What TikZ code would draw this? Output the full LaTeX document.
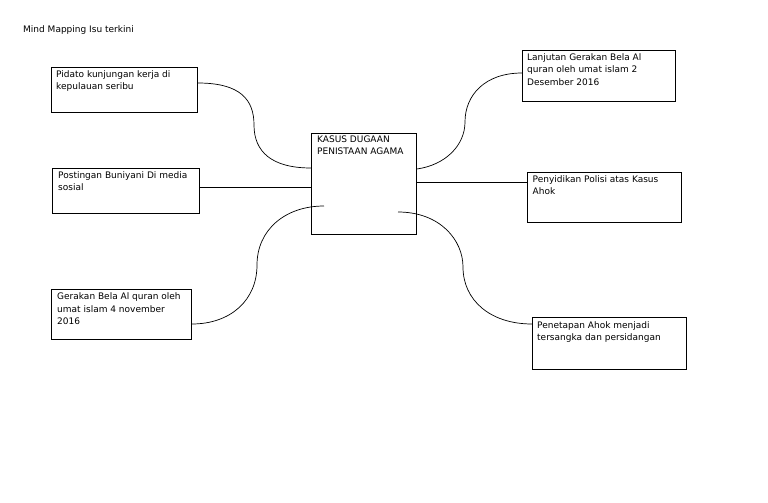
\documentclass[tikz,border=0pt]{standalone}
\usepackage{fontspec}
\setmainfont{DejaVu Sans}
\usetikzlibrary{calc}
\begin{document}
\begin{tikzpicture}[x=1pt,y=-1pt,
  box/.style={draw, line width=0.8pt, inner sep=0pt, anchor=north west},
  txt/.style={anchor=north west, inner sep=0pt, align=left, font=\fontsize{9}{12.5}\selectfont},
  link/.style={line width=0.7pt}]
\fill[white] (0,0) rectangle (768,503);
\path[use as bounding box] (0,0) rectangle (768,503);
\node[txt] (title) at (23,25) {Mind Mapping Isu terkini};
% boxes
\node[box, minimum width=146pt, minimum height=45pt] (A) at (51,67) {};
\node[box, minimum width=147pt, minimum height=45pt] (B) at (52,168) {};
\node[box, minimum width=140pt, minimum height=50pt] (C) at (51,289) {};
\node[box, minimum width=105pt, minimum height=101pt] (K) at (311,133) {};
\node[box, minimum width=153pt, minimum height=51pt] (D) at (522,50) {};
\node[box, minimum width=154pt, minimum height=50pt] (E) at (527,172) {};
\node[box, minimum width=154pt, minimum height=52pt] (F) at (532,317) {};
% texts
\node[txt] (At) at ($(A.north west)+(5,3)$) {Pidato kunjungan kerja di\\kepulauan seribu};
\node[txt] (Bt) at ($(B.north west)+(6,3)$) {Postingan Buniyani Di media\\sosial};
\node[txt] (Ct) at ($(C.north west)+(6,3.5)$) {Gerakan Bela Al quran oleh\\umat islam 4 november\\2016};
\node[txt] (Kt) at ($(K.north west)+(6,2.5)$) {KASUS DUGAAN\\PENISTAAN AGAMA};
\node[txt] (Dt) at ($(D.north west)+(5,3)$) {Lanjutan Gerakan Bela Al\\quran oleh umat islam 2\\Desember 2016};
\node[txt] (Et) at ($(E.north west)+(5.5,3)$) {Penyidikan Polisi atas Kasus\\Ahok};
\node[txt] (Ft) at ($(F.north west)+(5,4)$) {Penetapan Ahok menjadi\\tersangka dan persidangan};
% connectors
\draw[link] ($(A.north east)+(0,16)$) .. controls +(43,0) and +(0,-25) .. (254,125)
  .. controls +(0,27) and +(-39,0) .. ($(K.north west)+(0,35)$);
\draw[link] ($(B.north east)+(0,19)$) coordinate (b1) -- (b1 -| K.west);
\draw[link] ($(C.north east)+(0,35)$) .. controls +(39,0) and +(0,35) .. (257,265)
  .. controls +(0,-35) and +(-39,0) .. ($(K.north west)+(13,73)$);
\draw[link] ($(K.north east)+(0,36)$) .. controls +(29,-4) and +(0,23) .. (465,122)
  .. controls +(0,-27) and +(-37,0) .. ($(D.north west)+(0,23)$);
\draw[link] ($(K.north east)+(0,49)$) coordinate (e1) -- (e1 -| E.west);
\draw[link] ($(K.north west)+(87,79)$) .. controls +(42,0) and +(0,-27) .. (463,267)
  .. controls +(0,33) and +(-42,0) .. ($(F.north west)+(0,7)$);
\end{tikzpicture}
\end{document}
